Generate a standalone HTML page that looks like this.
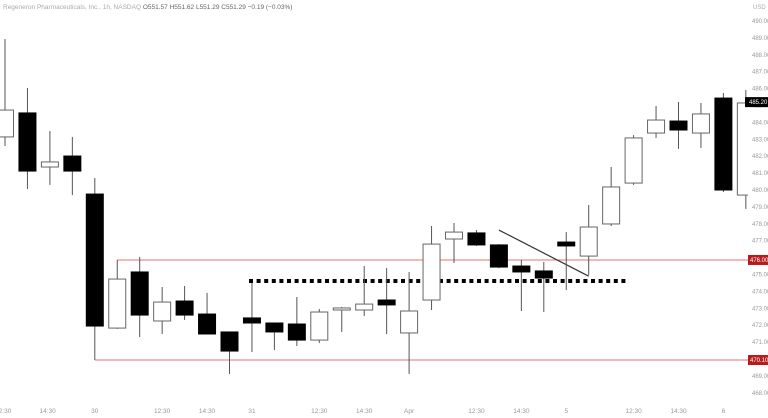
<!DOCTYPE html>
<html><head><meta charset="utf-8"><style>
html,body{margin:0;padding:0;background:#fff;}
svg{display:block;font-family:"Liberation Sans",sans-serif;}
</style></head><body>
<svg id="chart" width="768" height="418" viewBox="0 0 768 418">
<text x="3" y="9" font-size="6.5" fill="#aaa">Regeneron Pharmaceuticals, Inc., 1h, NASDAQ  <tspan fill="#666">O551.57  H551.62  L551.29  C551.29  −0.19 (−0.03%)</tspan></text>
<g id="lines"></g>
<g id="candles"></g>
<g id="axis"></g>
</svg>
<script>
const opens  = [483.14,484.56,481.36,482.01,479.76,471.83,475.15,472.25,473.43,472.66,471.60,472.43,472.13,472.07,471.12,472.90,472.90,473.49,471.54,473.49,477.10,477.46,476.75,475.50,475.21,476.92,476.09,477.99,480.41,483.37,484.08,483.37,485.44,479.70];
const highs  = [488.93,486.04,483.49,483.14,480.71,475.86,476.04,474.26,474.32,473.91,471.60,474.50,472.13,473.67,472.96,473.08,475.50,475.38,475.15,477.87,478.05,477.63,476.80,475.86,475.74,477.51,479.11,481.36,483.25,484.97,485.21,485.15,485.74,485.92];
const lows   = [482.60,480.06,480.30,479.70,469.94,471.78,471.30,471.48,472.31,471.48,469.11,470.41,470.53,470.77,470.95,471.60,472.54,471.48,469.11,472.90,475.68,476.69,475.38,472.84,472.78,474.08,474.97,477.87,480.30,483.08,482.43,482.49,479.88,478.88];
const closes = [484.73,481.12,481.66,481.12,471.95,474.73,472.60,473.37,472.60,471.48,470.47,472.13,471.60,471.12,472.78,473.02,473.25,473.20,472.84,476.80,477.51,476.75,475.44,475.15,474.79,476.69,477.81,480.18,483.08,484.14,483.55,484.50,480.00,485.15];
const priceTicks = [490,489,488,487,486,485,484,483,482,481,480,479,478,477,476,475,474,473,472,471,470,469,468];
const timeLabels = ["2:30","14:30","30","12:30","14:30","31","12:30","14:30","Apr","12:30","14:30","5","12:30","14:30","6"];
const timeIdx    = [0,1.9,4,7,9,11,14,16,18,21,23,25,28,30,32];
const levels = [475.86, 469.94];
const levelLabels = ["476.00","470.10"];
const lastPrice = 485.2;

const NS="http://www.w3.org/2000/svg";
const y=p=>21+(490-p)*16.9;
const x=i=>5+i*22.45;
function mk(tag,attrs,parent){const e=document.createElementNS(NS,tag);for(const k in attrs)e.setAttribute(k,attrs[k]);parent.appendChild(e);return e;}
const L=document.getElementById('lines'),C=document.getElementById('candles'),A=document.getElementById('axis');

levels.forEach((lv,k)=>{
  const x0 = k===0 ? x(5) : x(4);
  const ln=mk('line',{x1:x0,x2:748,y1:y(lv),y2:y(lv),stroke:'#e57373',"stroke-width":1},L);
  
  
});
const dl=mk('line',{x1:249,x2:628,y1:281,y2:281,stroke:'#000',"stroke-width":4,"stroke-dasharray":"4 3.6"},L);


const tl=mk('line',{x1:x(22),y1:y(477.63),x2:x(26),y2:y(474.9),stroke:'#333',"stroke-width":1.2},L);



opens.forEach((o,i)=>{
  const c=closes[i],up=c>=o,cx=x(i);
  const g=mk('g',{},C);
  
  
  mk('line',{x1:cx,x2:cx,y1:y(highs[i]),y2:y(lows[i]),stroke:'#555',"stroke-width":1},g);
  const top=y(Math.max(o,c)),bot=y(Math.min(o,c));
  mk('rect',{x:cx-8.5,y:top,width:17,height:Math.max(bot-top,1.5),fill:up?'#fff':'#000',stroke:up?'#666':'#000',"stroke-width":1},g);
});

const bg=mk('rect',{x:748,y:0,width:20,height:418,fill:'#fff'},A);


priceTicks.forEach(p=>{
  const t=mk('text',{x:752,y:y(p)+2,"font-size":6,fill:'#999'},A);
  t.textContent=p.toFixed(2);
  
  
});
const usd=mk('text',{x:753,y:9,"font-size":6,fill:'#aaa'},A);
usd.textContent='USD';


levels.forEach((lv,k)=>{
  const r=mk('rect',{x:748,y:y(lv)-5,width:22,height:10,fill:'#b71c1c'},A);
  
  
  const t=mk('text',{x:750,y:y(lv)+2,"font-size":6,fill:'#fff'},A);
  t.textContent=levelLabels[k];
  
  
});
const lr=mk('rect',{x:745,y:y(lastPrice)-5,width:25,height:10,fill:'#000'},A);


const lt=mk('text',{x:749,y:y(lastPrice)+2,"font-size":6,fill:'#fff'},A);
lt.textContent=lastPrice.toFixed(2);


timeLabels.forEach((s,k)=>{
  const t=mk('text',{x:x(timeIdx[k]),y:413,"font-size":6.5,fill:'#999',"text-anchor":"middle"},A);
  t.textContent=s;
  
  
});
</script>
</body></html>
